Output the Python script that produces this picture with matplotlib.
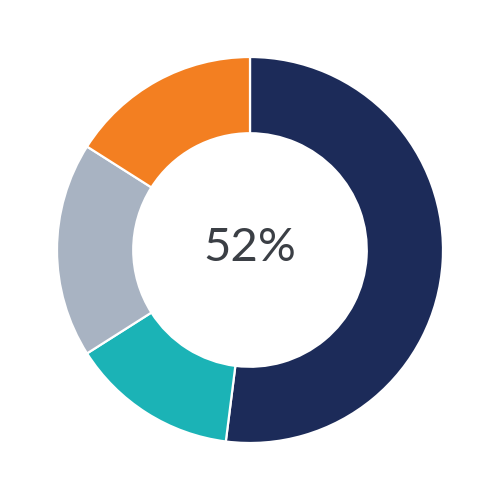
import matplotlib.pyplot as plt

# Datos del grafico de anillo
etiquetas = ['A', 'B', 'C', 'D']
valores = [52, 14, 18, 16]
colores = ['#1c2b59', '#1bb3b6', '#a8b3c2', '#f37f21']
texto_centro = '52%'

fig = plt.figure(figsize=(5, 5), dpi=100)
ax = fig.add_axes([0.114, 0.114, 0.772, 0.772])

ax.pie(valores, colors=colores, startangle=90, counterclock=False,
       radius=1.0,
       wedgeprops=dict(width=0.395, edgecolor='white', linewidth=1.6))
ax.text(0, 0.01, texto_centro, ha='center', va='center',
        fontsize=34, color='#3b3f45', family='Lato')
ax.set_xlim(-1, 1)
ax.set_ylim(-1, 1)
ax.set_aspect('equal')
ax.axis('off')

fig.savefig('out.png', dpi=100, facecolor='white')
